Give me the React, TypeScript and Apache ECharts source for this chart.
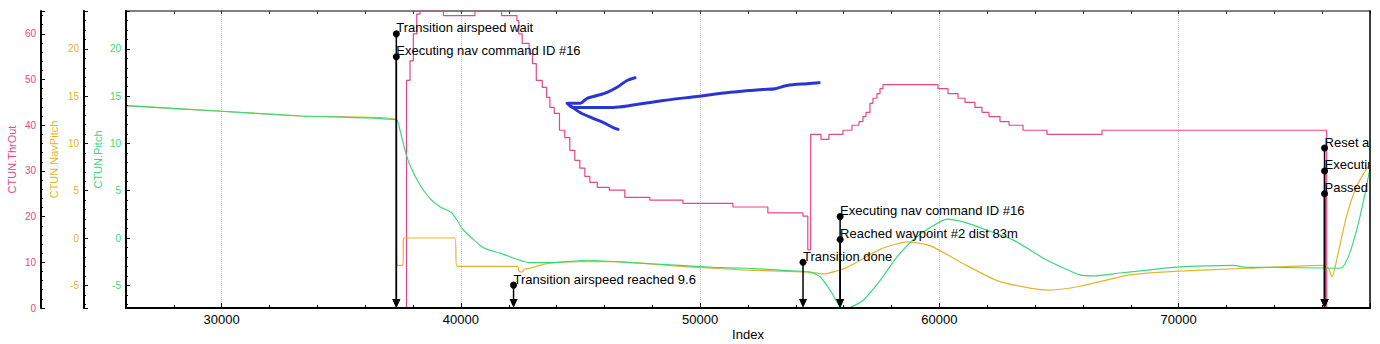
import React, { useEffect, useRef } from 'react';
import * as echarts from 'echarts';

// ---------- data ----------
const xRange = [26000, 78000];
const thrOutRange = [0, 65];
const pitchRange = [-7.4, 24];

// CTUN.ThrOut (stepped, value changes at x)
const thrOut: [number, number][] = [
  [26000, 0], [37660, 0], [37725, 49.8], [37871, 54.1], [38010, 60.0], [38152, 64.3], [38289, 65],
  [39264, 64], [40588, 65], [41700, 64.0], [42340, 62.9], [42420, 60.0], [42560, 57.9], [42850, 55.7],
  [42990, 53.5], [43150, 49.8], [43400, 48.3], [43580, 46.1], [43720, 43.9], [43900, 42.6], [44120, 38.9],
  [44340, 37.3], [44550, 34.5], [44760, 32.3], [44970, 30.6], [45180, 28.8], [45390, 27.5], [45700, 26.4],
  [46200, 25.8], [46850, 24.2], [47900, 23.6], [49280, 22.9], [51370, 22.1], [52830, 20.8], [54300, 20.1],
  [54500, 12.7], [54620, 38.0], [55050, 36.9], [55385, 38.0], [55971, 38.9], [56347, 40.0], [56639, 40.8],
  [56807, 41.9], [56932, 42.8], [57099, 44.8], [57224, 45.9], [57392, 46.9], [57517, 48.0], [57643, 48.9],
  [59942, 48.0], [60360, 46.9], [60778, 45.9], [61071, 45.0], [61489, 43.9], [61782, 42.8], [62074, 41.9],
  [62534, 40.8], [62911, 40.0], [63496, 38.9], [64499, 38.0], [66799, 38.9], [76190, 0], [78000, 0],
];

// CTUN.NavPitch
const navPitch: [number, number][] = [
  [26000, 14.0], [30000, 13.4], [33300, 12.9], [37300, 12.5], [37330, -2.9], [37580, -2.9], [37600, 0],
  [39750, 0], [39830, -3.0], [42380, -3.0], [42420, -3.5], [42550, -3.6], [42650, -3.3], [42887, -3.2],
  [43598, -2.7], [44977, -2.5], [46362, -2.5], [47778, -2.7], [49157, -3.0], [50537, -3.2], [51958, -3.4],
  [53338, -3.5], [54591, -3.6], [55135, -3.8], [56138, -3.1], [57517, -1.2], [58646, -0.4], [59607, -0.8],
  [60987, -2.7], [62408, -4.5], [63788, -5.3], [64624, -5.5], [65878, -5.1], [67968, -3.9], [70059, -3.5],
  [72859, -3.2], [76036, -2.9], [76245, -3.1], [76412, -4.1], [76538, -3.1], [77010, 2.2], [77430, 5.4],
  [77900, 7.5], [78000, 7.7],
];

// CTUN.Pitch
const pitch: [number, number][] = [
  [26000, 14.0], [30000, 13.4], [33300, 12.9], [37300, 12.5], [37450, 11.4], [37660, 9.3], [37870, 7.7],
  [38290, 5.6], [38700, 4.2], [39120, 3.3], [39600, 2.7], [39835, 1.9], [40086, 0.9], [40922, -1.0],
  [41633, -1.6], [42887, -2.6], [43848, -2.6], [45270, -2.35], [47072, -2.6], [49157, -2.9], [50537, -3.1],
  [51958, -3.2], [53338, -3.4], [54591, -3.6], [55009, -4.1], [55427, -5.5], [55845, -7.3], [56000, -7.5],
  [56300, -7.3], [56807, -6.6], [57517, -4.5], [58228, -2.0], [58897, -0.2], [59607, 1.1], [60318, 2.0],
  [60987, 1.7], [61698, 1.1], [63077, -0.2], [64499, -2.35], [65878, -3.9], [66422, -4.0], [67550, -3.7],
  [68679, -3.4], [69766, -3.1], [72274, -2.9], [72859, -3.1], [73528, -3.1], [76747, -3.2], [78000, 7.4],
];

// message events
const eventX = [37300, 37300, 42200, 54300, 55850, 55850, 76100, 76100, 76100];
const eventLevel = [60, 55, 5, 10, 20, 15, 35, 30, 25];
const eventText = [
  'Transition airspeed wait',
  'Executing nav command ID #16',
  'Transition airspeed reached 9.6',
  'Transition done',
  'Executing nav command ID #16',
  'Reached waypoint #2 dist 83m',
  'Reset al',
  'Executin',
  'Passed w',
];

// hand-drawn blue arrow (in Index / ThrOut units)
const arrowShaft: [number, number][] = [
  [54975, 49.3], [54473, 49.1], [53630, 48.7], [53135, 48.0], [52632, 47.8], [51253, 47.2], [49873, 46.3],
  [48452, 45.4], [47072, 44.3], [46362, 43.9], [44690, 43.9], [44439, 44.8],
];
const arrowUpper: [number, number][] = [
  [47280, 50.4], [46946, 49.8], [46528, 48.3], [46110, 47.2], [45692, 46.5], [45274, 45.9], [44981, 44.8],
  [44480, 44.8],
];
const arrowLower: [number, number][] = [
  [44564, 44.3], [44981, 42.8], [45525, 41.5], [45943, 40.6], [46362, 39.5], [46571, 39.1],
];

// ---------- styles ----------
const PINK = '#e6468a';
const YELLOW = '#e2b52c';
const GREEN = '#38d97c';
const BLUE = '#2a35d2';
const FONT = 'Liberation Sans';

function yAxisBase(color: string, name: string, min: number, max: number, offset: number, nameGap: number, showMin: boolean) {
  return {
    type: 'value',
    position: 'left',
    offset,
    min,
    max,
    name,
    nameLocation: 'middle',
    nameGap,
    nameRotate: 90,
    nameMoveOverlap: false,
    nameTextStyle: { color, fontSize: 11, fontFamily: FONT },
    axisLine: { show: true, onZero: false, lineStyle: { color: '#000', width: 2 } },
    axisTick: { show: true, inside: true, length: 4, lineStyle: { color: '#000' } },
    minorTick: { show: true, splitNumber: 5, length: 2, lineStyle: { color: '#000' } },
    axisLabel: {
      color, fontSize: 10, fontFamily: FONT, margin: 5, showMinLabel: showMin, showMaxLabel: false,
      formatter: (v: number) => String(v),
    },
    splitLine: { show: false },
    z: 10,
  };
}

export default function App() {
  const ref = useRef<HTMLDivElement>(null);
  useEffect(() => {
    if (!ref.current) return;
    const chart = echarts.init(ref.current, null, { renderer: 'svg' });
    const events = eventX.map((x, i) => [x, eventLevel[i], i]);
    const option: any = {
      animation: false,
      backgroundColor: '#ffffff',
      grid: { left: 126, right: 10, top: 11, bottom: 36, containLabel: false, outerBoundsMode: 'none' },
      xAxis: [
        {
          type: 'value',
          min: xRange[0],
          max: xRange[1],
          position: 'bottom',
          name: 'Index',
          nameLocation: 'middle',
          nameGap: 20,
          nameMoveOverlap: false,
          nameTextStyle: { color: '#000', fontSize: 13, fontFamily: FONT },
          axisLine: { show: true, onZero: false, lineStyle: { color: '#000', width: 2 } },
          axisTick: { show: true, inside: true, length: 5, lineStyle: { color: '#000' } },
          minorTick: { show: true, splitNumber: 5, length: 3, lineStyle: { color: '#000' } },
          axisLabel: {
            color: '#000', fontSize: 13, fontFamily: FONT, margin: 5, showMinLabel: false, showMaxLabel: false,
            formatter: (v: number) => String(v),
          },
          splitLine: { show: false },
          z: 10,
        },
        {
          type: 'value',
          min: xRange[0],
          max: xRange[1],
          position: 'top',
          axisLine: { show: true, onZero: false, lineStyle: { color: '#808080', width: 2 } },
          axisTick: { show: true, inside: true, length: 3, lineStyle: { color: '#333' } },
          minorTick: { show: true, splitNumber: 5, length: 3, lineStyle: { color: '#333' } },
          axisLabel: { show: false },
          splitLine: { show: true, lineStyle: { color: '#c8c8c8', type: 'dotted', width: 1 } },
          z: 0,
        },
      ],
      yAxis: [
        yAxisBase(GREEN, 'CTUN.Pitch', pitchRange[0], pitchRange[1], 0, 23, false),
        yAxisBase(YELLOW, 'CTUN.NavPitch', pitchRange[0], pitchRange[1], 42, 25, false),
        yAxisBase(PINK, 'CTUN.ThrOut', thrOutRange[0], thrOutRange[1], 85, 24, true),
        {
          type: 'value',
          position: 'right',
          min: 0,
          max: 1,
          axisLine: { show: true, onZero: false, lineStyle: { color: '#000', width: 1.5 } },
          axisTick: { show: false },
          axisLabel: { show: false },
          splitLine: { show: false },
          z: 10,
        },
      ],
      series: [
        {
          name: 'CTUN.ThrOut',
          type: 'line',
          yAxisIndex: 2,
          data: thrOut,
          step: 'end',
          symbol: 'none',
          lineStyle: { color: PINK, width: 1.2 },
          itemStyle: { color: PINK },
          z: 2,
        },
        {
          name: 'CTUN.NavPitch',
          type: 'line',
          yAxisIndex: 1,
          data: navPitch,
          smooth: 0.2,
          symbol: 'none',
          lineStyle: { color: YELLOW, width: 1.2 },
          itemStyle: { color: YELLOW },
          z: 3,
        },
        {
          name: 'CTUN.Pitch',
          type: 'line',
          yAxisIndex: 0,
          data: pitch,
          smooth: 0.2,
          symbol: 'none',
          lineStyle: { color: GREEN, width: 1.2 },
          itemStyle: { color: GREEN },
          z: 3,
        },
        {
          name: 'Messages',
          type: 'custom',
          yAxisIndex: 2,
          data: events,
          clip: true,
          z: 5,
          encode: { x: 0, y: 1 },
          renderItem: (params: any, api: any) => {
            const x = api.value(0);
            const lvl = api.value(1);
            const idx = api.value(2);
            const p = api.coord([x, lvl]);
            const cs = params.coordSys;
            const bottom = cs.y + cs.height;
            return {
              type: 'group',
              children: [
                { type: 'line', shape: { x1: p[0], y1: p[1], x2: p[0], y2: bottom - 6 }, style: { stroke: '#000', lineWidth: 1.5 } },
                { type: 'polygon', shape: { points: [[p[0] - 4, bottom - 9], [p[0] + 4, bottom - 9], [p[0], bottom]] }, style: { fill: '#000' } },
                { type: 'circle', shape: { cx: p[0], cy: p[1], r: 3.5 }, style: { fill: '#000' } },
                {
                  type: 'text',
                  x: p[0],
                  y: p[1] - 6,
                  style: { text: eventText[idx], fill: '#000', font: `13px "${FONT}"`, align: 'left', verticalAlign: 'middle' },
                },
              ],
            };
          },
        },
        ...[arrowShaft, arrowUpper, arrowLower].map((d) => ({
          type: 'line',
          yAxisIndex: 2,
          data: d,
          smooth: 0.3,
          symbol: 'none',
          lineStyle: { color: BLUE, width: 3, cap: 'round', join: 'round' },
          itemStyle: { color: BLUE },
          z: 6,
        })),
      ],
    };
    chart.setOption(option);
    return () => chart.dispose();
  }, []);
  return <div ref={ref} style={{ position: 'fixed', left: 0, top: 0, width: 1380, height: 344, background: '#fff' }} />;
}
